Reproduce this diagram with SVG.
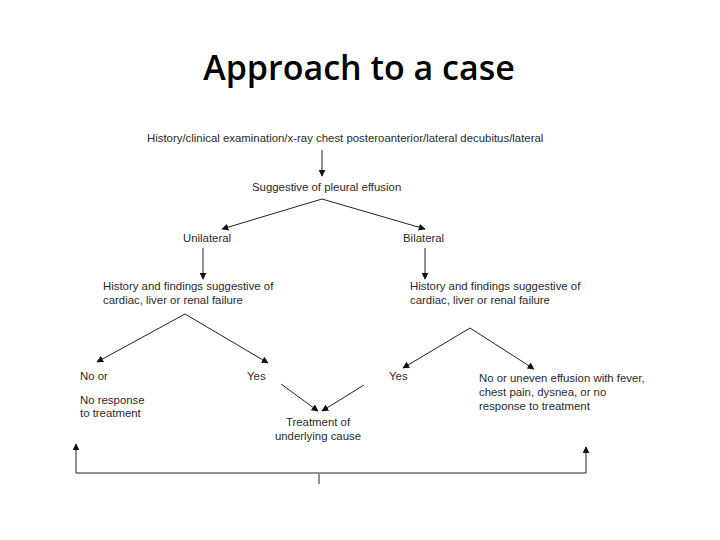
<svg xmlns="http://www.w3.org/2000/svg" width="720" height="540" viewBox="0 0 720 540">
<style>
.t{font-family:"Liberation Sans",Arial,sans-serif;font-size:11.4px;fill:#2a2a2a}
.c line,.c path{stroke:#222;stroke-width:1;fill:none}
</style>
<defs><marker id="a" viewBox="0 0 10 10" refX="9" refY="5" markerWidth="7" markerHeight="7" orient="auto"><path d="M0,0L10,5L0,10z" fill="#111"/></marker></defs>
<rect width="720" height="540" fill="#fff"/>
<text x="359" y="80" text-anchor="middle" font-family="'Open Sans','Liberation Sans',sans-serif" font-weight="600" font-size="34">Approach to a case</text>
<g class="c">
<line x1="322" y1="150" x2="322" y2="176" marker-end="url(#a)"/>
<line x1="322" y1="199" x2="222" y2="229" marker-end="url(#a)"/>
<line x1="322" y1="199" x2="425" y2="229" marker-end="url(#a)"/>
<line x1="203" y1="248" x2="203" y2="279" marker-end="url(#a)"/>
<line x1="425" y1="248" x2="425" y2="279" marker-end="url(#a)"/>
<line x1="185" y1="314" x2="97" y2="362" marker-end="url(#a)"/>
<line x1="185" y1="314" x2="268" y2="363" marker-end="url(#a)"/>
<line x1="470" y1="328" x2="403" y2="368" marker-end="url(#a)"/>
<line x1="470" y1="328" x2="534" y2="369" marker-end="url(#a)"/>
<line x1="281" y1="384" x2="318" y2="411" marker-end="url(#a)"/>
<line x1="364" y1="385" x2="322" y2="411" marker-end="url(#a)"/>
<path d="M76,473H586"/>
<line x1="76" y1="473" x2="76" y2="444" marker-end="url(#a)"/>
<line x1="586" y1="473" x2="586" y2="447" marker-end="url(#a)"/>
<line x1="319" y1="474" x2="319" y2="484" stroke="#999"/>
</g>
<g id="n1"><text class="t" x="147" y="142">History/clinical examination/x-ray chest posteroanterior/lateral decubitus/lateral</text></g>
<g id="n2"><text class="t" x="252" y="191">Suggestive of pleural effusion</text></g>
<g id="n3"><text class="t" x="183" y="242">Unilateral</text></g>
<g id="n4"><text class="t" x="403" y="242">Bilateral</text></g>
<g id="n5"><text class="t" x="103" y="290">History and findings suggestive of</text><text class="t" x="103" y="304">cardiac, liver or renal failure</text></g>
<g id="n6"><text class="t" x="410" y="290">History and findings suggestive of</text><text class="t" x="410" y="304">cardiac, liver or renal failure</text></g>
<g id="n7"><text class="t" x="80" y="380">No or</text><text class="t" x="80" y="404">No response</text><text class="t" x="80" y="417">to treatment</text></g>
<g id="n8"><text class="t" x="247" y="380">Yes</text></g>
<g id="n9"><text class="t" x="389" y="380">Yes</text></g>
<g id="n10"><text class="t" x="479" y="382">No or uneven effusion with fever,</text><text class="t" x="479" y="396">chest pain, dysnea, or no</text><text class="t" x="479" y="410">response to treatment</text></g>
<g id="n11"><text class="t" x="318" y="426" text-anchor="middle">Treatment of</text><text class="t" x="318" y="440" text-anchor="middle">underlying cause</text></g>
</svg>
